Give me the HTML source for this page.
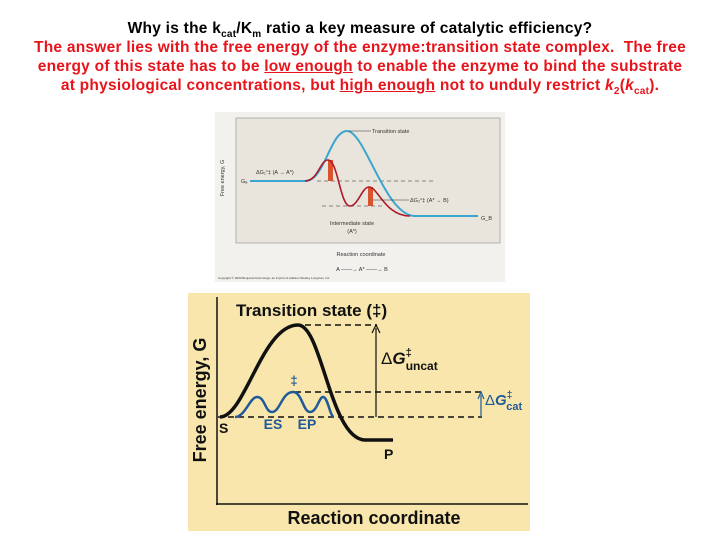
<!DOCTYPE html>
<html><head><meta charset="utf-8"><style>
body{margin:0;width:720px;height:540px;background:#fff;overflow:hidden;font-family:"Liberation Sans",sans-serif;position:relative}
.t{position:absolute;left:0;width:720px;text-align:center;font-weight:bold;font-size:15.5px;letter-spacing:0.25px;white-space:nowrap}
.r{color:#e8141c}
</style></head><body>
<div class="t" style="top:20px">Why is the k<sub style="font-size:10px">cat</sub>/K<sub style="font-size:10px">m</sub> ratio a key measure of catalytic efficiency?</div>
<div class="t r" style="top:39px">The answer lies with the free energy of the enzyme:transition state complex.&nbsp; The free</div>
<div class="t r" style="top:58px">energy of this state has to be <u>low enough</u> to enable the enzyme to bind the substrate</div>
<div class="t r" style="top:77px">at physiological concentrations, but <u>high enough</u> not to unduly restrict <i>k</i><sub style="font-size:10px">2</sub>(<i>k</i><sub style="font-size:10px">cat</sub>).</div>

<svg width="720" height="540" style="position:absolute;left:0;top:0" font-family="Liberation Sans, sans-serif">
<g>
<rect x="215" y="112" width="290" height="170" fill="#f3f1ed"/>
<rect x="236" y="118" width="264" height="125" fill="#e9e5dc" stroke="#999" stroke-width="0.7"/>
<line x1="317" y1="181" x2="435" y2="181" stroke="#666" stroke-dasharray="4,3" stroke-width="0.8"/>
<line x1="322" y1="206" x2="382" y2="206" stroke="#666" stroke-dasharray="4,3" stroke-width="0.8"/>
<rect x="328" y="160" width="5" height="21" fill="#d9532c"/>
<rect x="368" y="187" width="5" height="19" fill="#d9532c"/>
<path d="M250,181 L305,181 C325,181 330,131 347,131 C365,131 385,216 415,216 L478,216" fill="none" stroke="#3aa6d0" stroke-width="2"/>
<path d="M305,181 C318,181 320,160 328,160 C338,160 340,206 350,206 C358,206 362,187 369,187 C378,187 385,216 410,216" fill="none" stroke="#b0192a" stroke-width="1.6"/>
<text x="372" y="133" font-size="5.5" fill="#333">Transition state</text>
<line x1="371" y1="131" x2="349" y2="131" stroke="#333" stroke-width="0.6"/>
<text x="256" y="174" font-size="5.5" fill="#333">ΔG₁°‡ (A → A*)</text>
<text x="241" y="183" font-size="5.5" fill="#333">Gₐ</text>
<text x="410" y="202" font-size="5.5" fill="#333">ΔG₂°‡ (A* → B)</text>
<line x1="373" y1="200" x2="409" y2="200" stroke="#333" stroke-width="0.5"/>
<text x="481" y="220" font-size="5.5" fill="#333">G_B</text>
<text x="352" y="225" font-size="5.5" fill="#333" text-anchor="middle">Intermediate state</text>
<text x="352" y="233" font-size="5.5" fill="#333" text-anchor="middle">(A*)</text>
<text x="226" y="180" font-size="5.5" fill="#333" text-anchor="middle" transform="rotate(-90 224 180)">Free energy, G</text>
<text x="361" y="256" font-size="5.5" fill="#333" text-anchor="middle">Reaction coordinate</text>
<text x="362" y="271" font-size="5.5" fill="#333" text-anchor="middle">A ——→ A* ——→ B</text>
<text x="218" y="279" font-size="3" fill="#333">Copyright © 2000 Benjamin/Cummings, an imprint of Addison Wesley Longman, Inc.</text>
</g>
<g>
<rect x="188" y="293" width="342" height="238" fill="#f8e6ac"/>
<line x1="217" y1="297" x2="217" y2="505" stroke="#111" stroke-width="1.5"/>
<line x1="216" y1="504" x2="528" y2="504" stroke="#111" stroke-width="1.5"/>
<line x1="305" y1="325" x2="377" y2="325" stroke="#111" stroke-dasharray="6,4" stroke-width="1.4"/>
<line x1="295" y1="392" x2="482" y2="392" stroke="#111" stroke-dasharray="6,4" stroke-width="1.4"/>
<line x1="218" y1="417" x2="482" y2="417" stroke="#111" stroke-dasharray="6,4" stroke-width="1.4"/>
<line x1="376" y1="417" x2="376" y2="328" stroke="#111" stroke-width="1.2"/>
<path d="M372,333 L376,325 L380,333" fill="none" stroke="#111" stroke-width="1.2"/>
<line x1="481" y1="417" x2="481" y2="395" stroke="#1f5a9a" stroke-width="1.2"/>
<path d="M478,399 L481,392 L484,399" fill="none" stroke="#1f5a9a" stroke-width="1.2"/>
<path d="M235,417 C245,417 250,397 257,397 C265,397 265,412 272,412 C280,412 282,392 293,392 C302,392 303,412 310,412 C317,412 319,397 323,397 C328,397 330,417 334,417" fill="none" stroke="#1f5a9a" stroke-width="2.5"/>
<path d="M220,417 C245,417 262,325 298,325 C322,325 330,439 365,440 L393,440" fill="none" stroke="#111" stroke-width="3.5"/>
<text x="236" y="316" font-size="17" font-weight="bold" fill="#111">Transition state (‡)</text>
<text x="381" y="364" font-size="17" fill="#111">Δ<tspan font-weight="bold" font-style="italic">G</tspan><tspan font-size="11" font-weight="bold" dy="-8">‡</tspan><tspan font-size="12" font-weight="bold" dx="-6" dy="14">uncat</tspan></text>
<text x="485" y="405" font-size="15" fill="#1f5a9a">Δ<tspan font-weight="bold" font-style="italic">G</tspan><tspan font-size="10" font-weight="bold" dy="-7">‡</tspan><tspan font-size="11" font-weight="bold" dx="-6" dy="12">cat</tspan></text>
<text x="294" y="385" font-size="13" font-weight="bold" fill="#1f5a9a" text-anchor="middle">‡</text>
<text x="273" y="429" font-size="14" font-weight="bold" fill="#1f5a9a" text-anchor="middle">ES</text>
<text x="307" y="429" font-size="14" font-weight="bold" fill="#1f5a9a" text-anchor="middle">EP</text>
<text x="219" y="433" font-size="14" font-weight="bold" fill="#111">S</text>
<text x="384" y="459" font-size="14" font-weight="bold" fill="#111">P</text>
<text x="206" y="400" font-size="18" font-weight="bold" fill="#111" text-anchor="middle" transform="rotate(-90 206 400)">Free energy, G</text>
<text x="374" y="524" font-size="18" font-weight="bold" fill="#111" text-anchor="middle">Reaction coordinate</text>
</g>
</svg>
</body></html>
